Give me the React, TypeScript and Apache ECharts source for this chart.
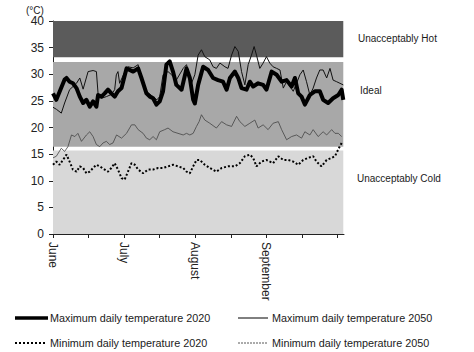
import React, { useEffect, useRef } from "react";
import * as echarts from "echarts";

// Day index from 1 June, temperature in °C
const max2020: [number, number][] = [
  [0, 26.4], [1.4, 25.2], [4.9, 29], [5.7, 29.3], [7, 28.6], [8.4, 28.3], [9.9, 27.4], [11.3, 25.8],
  [12.7, 24.6], [14.1, 25.2], [15.5, 23.9], [16.9, 24.9], [18.3, 23.9], [19, 26.1], [20.4, 25.8],
  [21.8, 26.4], [23.2, 27.1], [24.6, 26.4], [26, 25.8], [27.4, 26.8], [28.9, 27.4], [31, 31.1],
  [33.8, 30.5], [35.9, 31.1], [37.3, 29.3], [39.4, 26.4], [40.8, 25.8], [42.2, 25.5], [43.6, 24.3],
  [45, 24.9], [46.4, 26.8], [47.8, 31.8], [49.2, 32.4], [50.6, 30.5], [52, 28], [54.2, 27.1],
  [56.3, 31.1], [57.7, 29.3], [59.1, 25.2], [59.8, 24.5], [61.2, 28], [63.3, 31.4], [65.4, 30.8],
  [67.5, 29.3], [69.6, 28.9], [71.7, 28.6], [73.2, 27.1], [74.6, 29.3], [76.7, 30.5], [78.1, 29.3],
  [79.5, 27.4], [81.6, 27.1], [83, 28.6], [84.4, 27.7], [86.5, 28.3], [88.6, 28], [90, 27.1],
  [92.2, 30.5], [94.3, 29.9], [96.4, 28.6], [98.5, 28.9], [100.6, 27.7], [102, 29.3], [103.4, 26.4],
  [104.8, 25.8], [106.2, 24.3], [108.3, 26.1], [110.4, 26.8], [112.5, 26.8], [113.9, 25.2],
  [116, 24.6], [118.1, 25.5], [120.3, 26.1], [121.7, 27.1], [122.4, 25.2],
];

const max2050: [number, number][] = [
  [0, 23.8], [1.5, 23.4], [3.5, 22.7], [4.9, 24.6], [7, 27.1], [9.9, 28.3], [11.3, 29.3], [12.7, 27.2],
  [14.8, 30.5], [16.9, 30.7], [18.3, 30.5], [19, 26.4], [20.5, 25.5], [22.5, 25.8], [24.6, 26.2],
  [26, 27.1], [26.7, 29.9], [27.4, 30.5], [28.1, 28.3], [30.3, 30.5], [31.6, 31.4], [33.8, 31.2],
  [35.9, 31.8], [37.3, 29], [39.4, 26.8], [41.6, 26], [43.8, 25.2], [45, 25.8], [46.4, 29.9],
  [48.5, 30.5], [50, 29.9], [52, 28.9], [54.9, 31.1], [56.3, 31.8], [58.4, 28.3], [59.8, 29.9],
  [61.2, 33.6], [62.6, 34.6], [64, 33.3], [66.1, 32.7], [67.5, 31.4], [68.9, 31.1], [70.4, 32.1],
  [72.5, 31.4], [73.8, 31.1], [75.3, 33.6], [76.7, 35.2], [78.1, 34.3], [79.5, 30.5], [80.9, 28],
  [82.3, 31.8], [83.7, 33.6], [84.8, 35.2], [85.8, 33.6], [87.2, 31.1], [88.6, 32.1], [90, 33.3],
  [91.4, 32.1], [92.8, 31.4], [94.3, 31.1], [95.7, 30.8], [97.1, 27.4], [98.5, 28.6], [99.9, 27.7],
  [101.3, 26.8], [102.7, 28.3], [104.1, 29.9], [105.5, 30.8], [106.9, 28.6], [108.3, 26.1],
  [109.7, 27.4], [111.1, 29.3], [112.5, 30.8], [113.9, 30.8], [115.4, 29.3], [116.8, 31.1],
  [118.1, 28.9], [119.6, 28.6], [121, 28.3], [122.4, 28],
];

const min2020: [number, number][] = [
  [0, 13], [1.4, 13.6], [2.8, 13], [4.2, 13.9], [5.7, 14.9], [7, 13.6], [8.4, 12.1], [9.9, 11.7],
  [11.3, 12.7], [12.7, 12.4], [14.1, 11.4], [15.5, 11.7], [16.9, 12.4], [18.3, 13], [19.7, 12.7],
  [21.8, 12.1], [23.2, 11.7], [24.6, 12.4], [26, 13.3], [27.4, 12.1], [28.9, 10.5], [30.2, 10.2],
  [31.6, 11.7], [33.1, 13.3], [34.5, 13], [35.9, 12.1], [38, 11.4], [40.1, 12.1], [42.2, 12.1],
  [44.3, 12.4], [46.4, 12.4], [48.5, 12.7], [50.6, 13], [52.7, 12.7], [54.9, 12.4], [56.3, 11.7],
  [57.7, 11.4], [59.1, 12.7], [60.5, 13.9], [61.9, 13.9], [64, 13], [66.1, 12.4], [68.9, 11.7],
  [71.1, 12.4], [73.8, 12.7], [76.7, 12.7], [78.8, 13.3], [80.9, 14.6], [83, 14.9], [84.4, 14.3],
  [85.8, 12.7], [87.9, 13.6], [90, 13.9], [92.8, 13.3], [95, 14.6], [97.1, 13.9], [99.2, 13.9],
  [101.3, 13.6], [103.4, 13], [105.5, 13.9], [107.6, 14.3], [109.7, 14.6], [111.1, 13.6],
  [113.2, 12.7], [115.4, 13.9], [117.5, 14.3], [118.9, 14.6], [120.5, 16.1], [121.7, 17.1],
];

const min2050: [number, number][] = [
  [0, 14.3], [1.4, 14.6], [3.5, 16.1], [4.9, 15.5], [6.3, 16.4], [7.8, 18.6], [9.2, 18.3], [10.5, 18.9],
  [12, 17.4], [14.1, 18.6], [15.5, 19.2], [16.9, 18.3], [18.3, 16.8], [19.7, 16.4], [21.1, 17.1],
  [22.5, 17.4], [23.9, 16.8], [25.3, 17.1], [26.8, 18.6], [28.9, 18], [31, 18.9], [33.1, 20.5],
  [34.5, 20.5], [35.9, 19.6], [38, 18.9], [39.4, 18], [40.8, 17.7], [42.2, 18.3], [43.6, 17.7],
  [45, 19.2], [47.1, 19.6], [48.5, 19.9], [50.6, 19.2], [52.7, 18.9], [54.9, 18.6], [56.3, 18.9],
  [57.7, 18.6], [59.1, 18.9], [60.5, 20.2], [61.6, 21.1], [62.6, 22.4], [64, 21.4], [66.1, 20.8],
  [68.9, 19.9], [71.1, 21.1], [73.2, 20.5], [75.3, 20.2], [77.4, 22.1], [78.8, 21.1], [80.9, 20.2],
  [83, 20.8], [85.1, 21.4], [86.5, 19.9], [88.6, 20.5], [90.7, 19.6], [92.8, 20.8], [95, 21.1],
  [96.4, 19.6], [98.5, 17.7], [100.6, 18.3], [102.7, 18.6], [104.8, 18], [106.2, 19.2], [108.3, 18.6],
  [109.7, 19.6], [111.8, 18.3], [113.9, 19.2], [115.4, 18.6], [117.5, 19.6], [118.9, 18.9],
  [120.3, 18.9], [121.7, 18.3],
];

const monthLabels: Record<number, string> = { 0: "June", 30: "July", 60: "August", 90: "September" };
const bands: { name: string; from: number; to: number; color: string }[] = [
  { name: "Unacceptably Hot", from: 33.2, to: 40, color: "#5b5b5b" },
  { name: "Ideal", from: 16.4, to: 32.3, color: "#a8a8a8" },
  { name: "Unacceptably Cold", from: 0, to: 15.7, color: "#d8d8d8" },
];
const legendItems = [
  "Maximum daily temperature 2020",
  "Maximum daily temperature 2050",
  "Minimum daily temperature 2020",
  "Minimum daily temperature 2050",
];

const FONT = "'Liberation Sans', Arial, sans-serif";

export default function App() {
  const ref = useRef<HTMLDivElement>(null);
  useEffect(() => {
    document.body.style.margin = "0";
    if (!ref.current) return;
    const chart = echarts.init(ref.current, undefined, { renderer: "svg" });
    const textStyle = { fill: "#1a1a1a", font: `10px ${FONT}` };
    const legendText = { fill: "#1a1a1a", font: `10.8px ${FONT}` };
    chart.setOption({
      animation: false,
      textStyle: { fontFamily: FONT },
      grid: { left: 53, right: 130, top: 21, bottom: 118, containLabel: false },
      xAxis: {
        type: "value",
        min: 0,
        max: 122.7,
        interval: 15,
        axisLine: { lineStyle: { color: "#222", width: 1 } },
        axisTick: { show: true, length: 4, lineStyle: { color: "#222" } },
        splitLine: { show: false },
        axisLabel: {
          rotate: -90,
          margin: 8,
          fontSize: 12,
          color: "#222",
          fontFamily: FONT,
          showMaxLabel: false,
          formatter: (v: number) => monthLabels[v] ?? "",
        },
      },
      yAxis: {
        type: "value",
        min: 0,
        max: 40,
        interval: 5,
        axisLine: { show: true, lineStyle: { color: "#222", width: 1 } },
        axisTick: { show: true, length: 4, lineStyle: { color: "#222" } },
        splitLine: { show: false },
        axisLabel: { fontSize: 12, color: "#222", margin: 9, fontFamily: FONT },
      },
      graphic: [
        { type: "text", left: 26, top: 5, style: { text: "(°C)", ...textStyle } },
        { type: "text", left: 358, top: 33, style: { text: bands[0].name, ...textStyle } },
        { type: "text", left: 360, top: 85, style: { text: bands[1].name, ...textStyle } },
        { type: "text", left: 357, top: 173, style: { text: bands[2].name, ...textStyle } },
        // legend
        { type: "line", shape: { x1: 15, y1: 318, x2: 48, y2: 318 }, style: { stroke: "#000", lineWidth: 3.5 } },
        { type: "text", left: 50, top: 312, style: { text: legendItems[0], ...legendText } },
        { type: "line", shape: { x1: 238, y1: 318, x2: 268, y2: 318 }, style: { stroke: "#000", lineWidth: 1 } },
        { type: "text", left: 272, top: 312, style: { text: legendItems[1], ...legendText } },
        { type: "line", shape: { x1: 15, y1: 343, x2: 47, y2: 343 }, style: { stroke: "#000", lineWidth: 2, lineDash: [2, 2] } },
        { type: "text", left: 50, top: 337, style: { text: legendItems[2], ...legendText } },
        { type: "line", shape: { x1: 238, y1: 343, x2: 268, y2: 343 }, style: { stroke: "#444", lineWidth: 0.9, lineDash: [2, 1] } },
        { type: "text", left: 272, top: 337, style: { text: legendItems[3], ...legendText } },
      ],
      series: [
        {
          type: "line",
          name: legendItems[0],
          data: max2020,
          showSymbol: false,
          z: 5,
          lineStyle: { color: "#000", width: 4, join: "round" },
          markArea: {
            silent: true,
            data: bands.map((b) => [
              { xAxis: "min", yAxis: b.from, itemStyle: { color: b.color } },
              { xAxis: "max", yAxis: b.to },
            ]),
          },
        },
        {
          type: "line",
          name: legendItems[1],
          data: max2050,
          showSymbol: false,
          z: 4,
          lineStyle: { color: "#111", width: 1 },
        },
        {
          type: "line",
          name: legendItems[2],
          data: min2020,
          showSymbol: false,
          z: 4,
          lineStyle: { color: "#000", width: 2, type: [2, 2] },
        },
        {
          type: "line",
          name: legendItems[3],
          data: min2050,
          showSymbol: false,
          z: 3,
          lineStyle: { color: "#444", width: 0.8 },
        },
      ],
    });
    return () => chart.dispose();
  }, []);
  return <div ref={ref} style={{ width: 474, height: 352 }} />;
}
